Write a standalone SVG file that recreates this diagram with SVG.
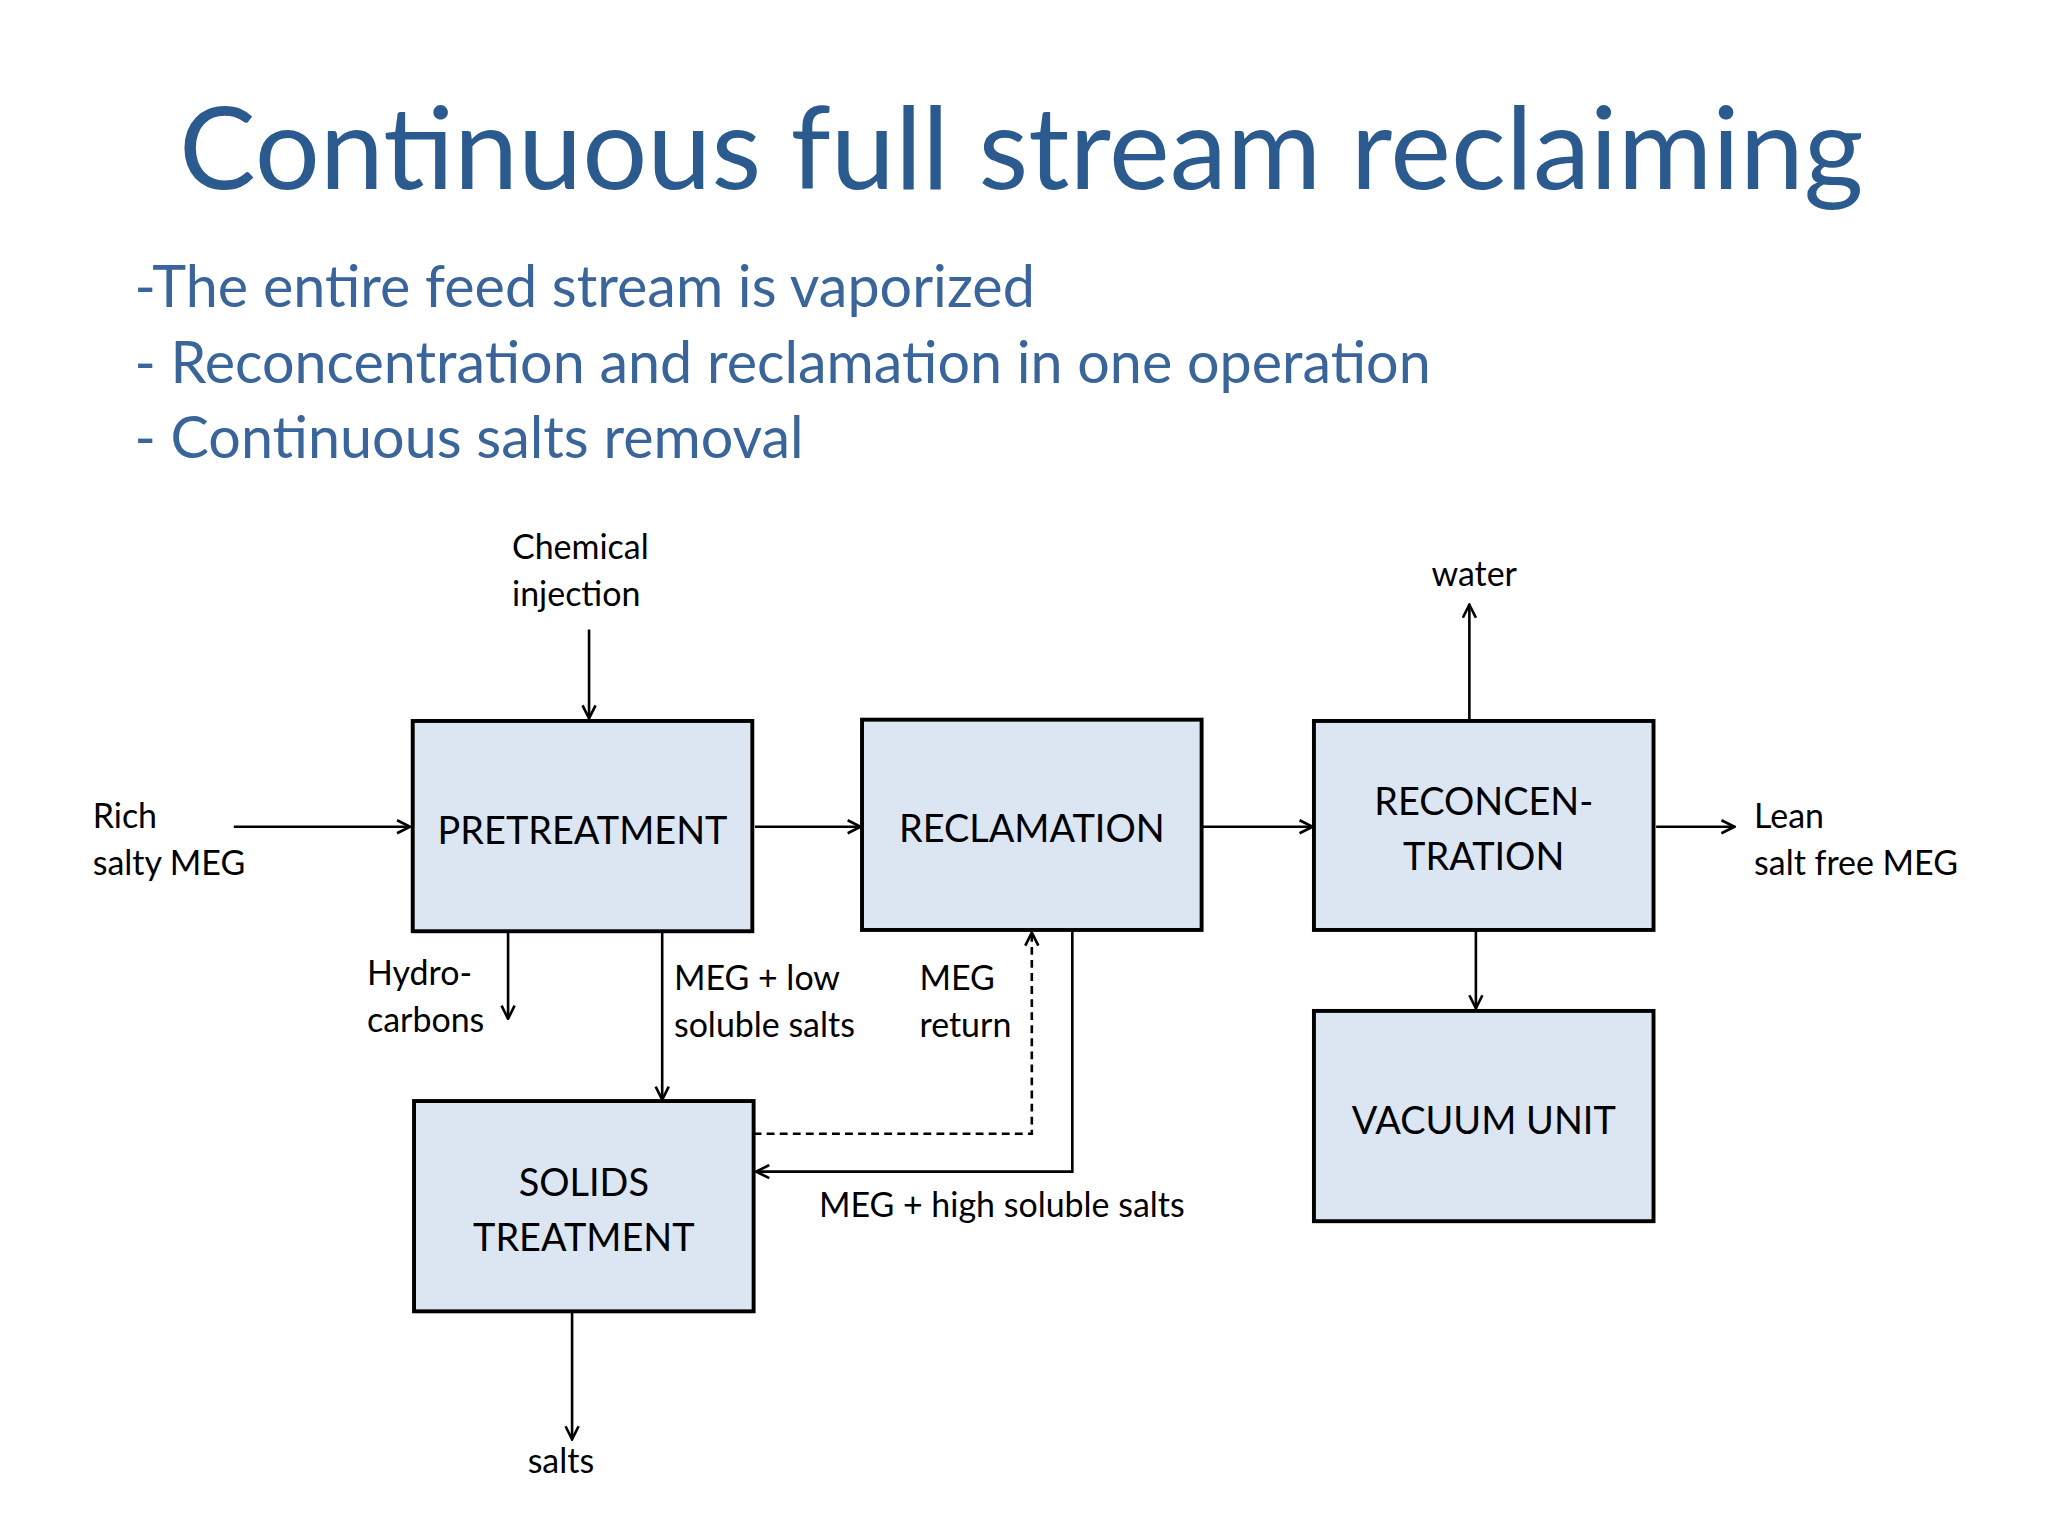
<svg xmlns="http://www.w3.org/2000/svg" width="2048" height="1536" viewBox="0 0 2048 1536">
<style>
.box{fill:#dce6f2;stroke:#000;stroke-width:3}
.bt{font-family:Lato,"Liberation Sans",sans-serif;font-size:29px;fill:#000;text-anchor:middle}
.lb{font-family:Lato,"Liberation Sans",sans-serif;font-size:26px;fill:#000}
.ln{fill:none;stroke:#000;stroke-width:2;marker-end:url(#a)}
.bu{font-family:Lato,"Liberation Sans",sans-serif;font-size:44px;fill:#3a659a}
</style>
<defs><marker id="a" viewBox="0 0 12 12" refX="11" refY="6" markerWidth="12" markerHeight="12" markerUnits="userSpaceOnUse" orient="auto"><path d="M1,1 L11,6 L1,11" fill="none" stroke="#000" stroke-width="2"/></marker></defs>
<rect width="2048" height="1536" fill="#fff"/>
<g transform="scale(1.3061)">
<text x="782" y="145" text-anchor="middle" font-family="Lato,'Liberation Sans',sans-serif" font-size="88" fill="#2b5a8e">Continuous full stream reclaiming</text>
<text class="bu" x="103" y="235">-The entire feed stream is vaporized</text>
<text class="bu" x="103" y="293">- Reconcentration and reclamation in one operation</text>
<text class="bu" x="103" y="351">- Continuous salts removal</text>
<g id="pretreatment"><rect class="box" x="316" y="552" width="260" height="161"/><text class="bt" x="446" y="646">PRETREATMENT</text></g>
<g id="reclamation"><rect class="box" x="660" y="551" width="260" height="161"/><text class="bt" x="790" y="645">RECLAMATION</text></g>
<g id="reconcentration"><rect class="box" x="1006" y="552" width="260" height="160"/><text class="bt" x="1136" y="624">RECONCEN-</text><text class="bt" x="1136" y="666">TRATION</text></g>
<g id="vacuum"><rect class="box" x="1006" y="774" width="260" height="161"/><text class="bt" x="1136" y="868">VACUUM UNIT</text></g>
<g id="solids"><rect class="box" x="317" y="843" width="260" height="161"/><text class="bt" x="447" y="916">SOLIDS</text><text class="bt" x="447" y="958">TREATMENT</text></g>
<g id="connectors">
<line class="ln" x1="451" y1="482" x2="451" y2="550"/>
<line class="ln" x1="179" y1="633" x2="314" y2="633"/>
<line class="ln" x1="578" y1="633" x2="659" y2="633"/>
<line class="ln" x1="921" y1="633" x2="1005" y2="633"/>
<line class="ln" x1="1268" y1="633" x2="1328" y2="633"/>
<line class="ln" x1="1125" y1="551" x2="1125" y2="463"/>
<line class="ln" x1="1130" y1="713" x2="1130" y2="772"/>
<line class="ln" x1="389" y1="713" x2="389" y2="780"/>
<line class="ln" x1="507" y1="713" x2="507" y2="842"/>
<polyline class="ln" points="577,868 790,868 790,714" stroke-dasharray="6,4"/>
<polyline class="ln" points="821,712 821,897 579,897"/>
<line class="ln" x1="438" y1="1004" x2="438" y2="1102"/>
</g>
<g id="labels">
<text class="lb" x="392" y="428">Chemical</text><text class="lb" x="392" y="464">injection</text>
<text class="lb" x="1096" y="449">water</text>
<text class="lb" x="71" y="634">Rich</text><text class="lb" x="71" y="670">salty MEG</text>
<text class="lb" x="1343" y="634">Lean</text><text class="lb" x="1343" y="670">salt free MEG</text>
<text class="lb" x="281" y="754">Hydro-</text><text class="lb" x="281" y="790">carbons</text>
<text class="lb" x="516" y="758">MEG + low</text><text class="lb" x="516" y="794">soluble salts</text>
<text class="lb" x="704" y="758">MEG</text><text class="lb" x="704" y="794">return</text>
<text class="lb" x="627" y="932">MEG + high soluble salts</text>
<text class="lb" x="404" y="1128">salts</text>
</g>
</g>
</svg>
